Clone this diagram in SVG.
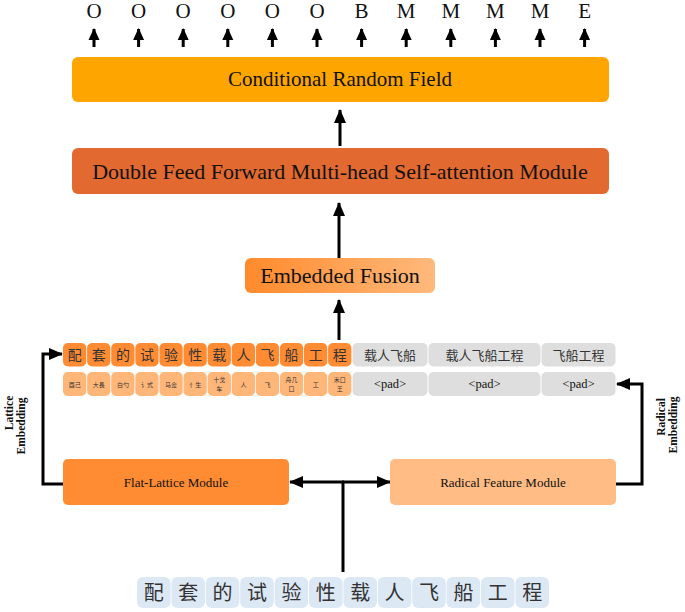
<svg xmlns="http://www.w3.org/2000/svg" width="685" height="612" viewBox="0 0 685 612">
<defs>
<linearGradient id="gEF" x1="0" y1="0" x2="1" y2="0">
<stop offset="0" stop-color="#FF8A2C"/>
<stop offset="1" stop-color="#FFB97C"/>
</linearGradient>
<marker id="ah" markerUnits="userSpaceOnUse" markerWidth="14" markerHeight="14" viewBox="0 0 14 14" refX="13" refY="7" orient="auto">
<path d="M0,1 L14,7 L0,13 Z" fill="#000"/>
</marker>
<marker id="ahs" markerUnits="userSpaceOnUse" markerWidth="12" markerHeight="12" viewBox="0 0 12 12" refX="11" refY="6" orient="auto">
<path d="M0,0.5 L12,6 L0,11.5 Z" fill="#000"/>
</marker>
</defs>
<style>
.serif{font-family:"Liberation Serif","Times New Roman",serif;fill:#111}
.cjk{font-family:"Noto Sans CJK SC","Noto Sans",sans-serif;fill:#333}
.line{fill:none;stroke:#000;stroke-width:3}
.lt{fill:none;stroke:#000;stroke-width:3}
.t1{fill:#FF8C33}
.t2{fill:#FFB679}
.tg{fill:#DEDEDE}
.tb{fill:#DDE8F5}
.big{font-size:21px}
.big2{font-size:22px}
.lbl{font-size:21px}
.c14{font-size:14px}
.c13{font-size:13px}
.c6{font-size:6px}
.pad{font-size:12.5px}
.side{font-size:11.5px;font-weight:bold}
.mod{font-size:13px}
.c20{font-size:20px}
</style>

<g id="labels">
<text class="serif lbl" x="94" y="18" text-anchor="middle">O</text>
<text class="serif lbl" x="138.6" y="18" text-anchor="middle">O</text>
<text class="serif lbl" x="183.2" y="18" text-anchor="middle">O</text>
<text class="serif lbl" x="227.8" y="18" text-anchor="middle">O</text>
<text class="serif lbl" x="272.4" y="18" text-anchor="middle">O</text>
<text class="serif lbl" x="317" y="18" text-anchor="middle">O</text>
<text class="serif lbl" x="361.6" y="18" text-anchor="middle">B</text>
<text class="serif lbl" x="406.2" y="18" text-anchor="middle">M</text>
<text class="serif lbl" x="450.8" y="18" text-anchor="middle">M</text>
<text class="serif lbl" x="495.4" y="18" text-anchor="middle">M</text>
<text class="serif lbl" x="540" y="18" text-anchor="middle">M</text>
<text class="serif lbl" x="584.6" y="18" text-anchor="middle">E</text>
</g>

<g id="connectors">
<g class="lt" marker-end="url(#ahs)">
<line x1="94" y1="47" x2="94" y2="29"/>
<line x1="138.6" y1="47" x2="138.6" y2="29"/>
<line x1="183.2" y1="47" x2="183.2" y2="29"/>
<line x1="227.8" y1="47" x2="227.8" y2="29"/>
<line x1="272.4" y1="47" x2="272.4" y2="29"/>
<line x1="317" y1="47" x2="317" y2="29"/>
<line x1="361.6" y1="47" x2="361.6" y2="29"/>
<line x1="406.2" y1="47" x2="406.2" y2="29"/>
<line x1="450.8" y1="47" x2="450.8" y2="29"/>
<line x1="495.4" y1="47" x2="495.4" y2="29"/>
<line x1="540" y1="47" x2="540" y2="29"/>
<line x1="584.6" y1="47" x2="584.6" y2="29"/>
</g>
<line class="line" x1="340" y1="146" x2="340" y2="110" marker-end="url(#ah)"/>
<line class="line" x1="339" y1="258" x2="339" y2="203" marker-end="url(#ah)"/>
<line class="line" x1="339" y1="340" x2="339" y2="300" marker-end="url(#ah)"/>
<path class="line" d="M63,484 H43 V354 H62" marker-end="url(#ah)"/>
<path class="line" d="M616,484 H642 V384 H617" marker-end="url(#ah)"/>
<line class="line" x1="344" y1="482" x2="290" y2="482" marker-end="url(#ah)"/>
<line class="line" x1="342" y1="482" x2="390" y2="482" marker-end="url(#ah)"/>
<line class="line" x1="343" y1="482" x2="343" y2="572"/>
</g>

<g id="crf">
<rect x="72" y="57" width="537" height="45" rx="6" fill="#FFA500"/>
<text class="serif big" x="340" y="86" text-anchor="middle">Conditional Random Field</text>
</g>

<g id="dff">
<rect x="72" y="148" width="537" height="46" rx="6" fill="#E2692F"/>
<text class="serif big2" x="340" y="178.5" text-anchor="middle">Double Feed Forward Multi-head Self-attention Module</text>
</g>

<g id="fusion">
<rect x="245" y="258" width="190" height="35" rx="6" fill="url(#gEF)"/>
<text class="serif big2" x="340" y="283" text-anchor="middle">Embedded Fusion</text>
</g>

<g id="lattice-row">
<rect class="t1" x="63" y="343" width="23.3" height="23.5" rx="5"/>
<rect class="t1" x="87.1" y="343" width="23.3" height="23.5" rx="5"/>
<rect class="t1" x="111.2" y="343" width="23.3" height="23.5" rx="5"/>
<rect class="t1" x="135.3" y="343" width="23.3" height="23.5" rx="5"/>
<rect class="t1" x="159.4" y="343" width="23.3" height="23.5" rx="5"/>
<rect class="t1" x="183.5" y="343" width="23.3" height="23.5" rx="5"/>
<rect class="t1" x="207.6" y="343" width="23.3" height="23.5" rx="5"/>
<rect class="t1" x="231.7" y="343" width="23.3" height="23.5" rx="5"/>
<rect class="t1" x="255.8" y="343" width="23.3" height="23.5" rx="5"/>
<rect class="t1" x="279.9" y="343" width="23.3" height="23.5" rx="5"/>
<rect class="t1" x="304" y="343" width="23.3" height="23.5" rx="5"/>
<rect class="t1" x="328.1" y="343" width="23.3" height="23.5" rx="5"/>
<rect class="tg" x="352.5" y="343" width="75" height="23.5" rx="5"/>
<rect class="tg" x="428.5" y="343" width="112" height="23.5" rx="5"/>
<rect class="tg" x="541.5" y="343" width="74" height="23.5" rx="5"/>
<g class="cjk c14" text-anchor="middle">
<text x="74.7" y="360">配</text>
<text x="98.8" y="360">套</text>
<text x="122.9" y="360">的</text>
<text x="147" y="360">试</text>
<text x="171.1" y="360">验</text>
<text x="195.2" y="360">性</text>
<text x="219.3" y="360">载</text>
<text x="243.4" y="360">人</text>
<text x="267.5" y="360">飞</text>
<text x="291.6" y="360">船</text>
<text x="315.7" y="360">工</text>
<text x="339.8" y="360">程</text>
</g>
<g class="cjk c13" text-anchor="middle">
<text x="390" y="359.5">载人飞船</text>
<text x="484.5" y="359.5">载人飞船工程</text>
<text x="578.5" y="359.5">飞船工程</text>
</g>
</g>

<g id="radical-row">
<rect class="t2" x="63" y="372" width="23.3" height="24" rx="5"/>
<rect class="t2" x="87.1" y="372" width="23.3" height="24" rx="5"/>
<rect class="t2" x="111.2" y="372" width="23.3" height="24" rx="5"/>
<rect class="t2" x="135.3" y="372" width="23.3" height="24" rx="5"/>
<rect class="t2" x="159.4" y="372" width="23.3" height="24" rx="5"/>
<rect class="t2" x="183.5" y="372" width="23.3" height="24" rx="5"/>
<rect class="t2" x="207.6" y="372" width="23.3" height="24" rx="5"/>
<rect class="t2" x="231.7" y="372" width="23.3" height="24" rx="5"/>
<rect class="t2" x="255.8" y="372" width="23.3" height="24" rx="5"/>
<rect class="t2" x="279.9" y="372" width="23.3" height="24" rx="5"/>
<rect class="t2" x="304" y="372" width="23.3" height="24" rx="5"/>
<rect class="t2" x="328.1" y="372" width="23.3" height="24" rx="5"/>
<rect class="tg" x="352.5" y="372" width="75" height="24" rx="5"/>
<rect class="tg" x="428.5" y="372" width="112" height="24" rx="5"/>
<rect class="tg" x="541.5" y="372" width="74" height="24" rx="5"/>
<g class="cjk c6" text-anchor="middle">
<text x="74.7" y="386.5">酉己</text>
<text x="98.8" y="386.5">大長</text>
<text x="122.9" y="386.5">白勺</text>
<text x="147" y="386.5">讠式</text>
<text x="171.1" y="386.5">马佥</text>
<text x="195.2" y="386.5">忄生</text>
<text x="219.3" y="382">十戈</text>
<text x="219.3" y="390.5">车</text>
<text x="243.4" y="386.5">人</text>
<text x="267.5" y="386.5">飞</text>
<text x="291.6" y="382">舟几</text>
<text x="291.6" y="390.5">口</text>
<text x="315.7" y="386.5">工</text>
<text x="339.8" y="382">禾口</text>
<text x="339.8" y="390.5">王</text>
</g>
<g class="serif pad" text-anchor="middle">
<text x="390" y="388">&lt;pad&gt;</text>
<text x="484.5" y="388">&lt;pad&gt;</text>
<text x="578.5" y="388">&lt;pad&gt;</text>
</g>
</g>

<g id="side-labels">
<text class="serif side" transform="translate(13,413) rotate(-90)" text-anchor="middle">Lattice</text>
<text class="serif side" transform="translate(25,426) rotate(-90)" text-anchor="middle">Embedding</text>
<text class="serif side" transform="translate(665,417) rotate(-90)" text-anchor="middle">Radical</text>
<text class="serif side" transform="translate(677,425) rotate(-90)" text-anchor="middle">Embedding</text>
</g>

<g id="flat-lattice">
<rect x="63" y="459" width="226" height="46" rx="5" fill="#FF8C33"/>
<text class="serif mod" x="176" y="486.5" text-anchor="middle">Flat-Lattice Module</text>
</g>

<g id="radical-feature">
<rect x="390" y="459" width="226" height="46" rx="5" fill="#FFBC84"/>
<text class="serif mod" x="503" y="486.5" text-anchor="middle">Radical Feature Module</text>
</g>

<g id="input">
<rect class="tb" x="137" y="577" width="33.6" height="31" rx="6"/>
<rect class="tb" x="171.4" y="577" width="33.6" height="31" rx="6"/>
<rect class="tb" x="205.8" y="577" width="33.6" height="31" rx="6"/>
<rect class="tb" x="240.2" y="577" width="33.6" height="31" rx="6"/>
<rect class="tb" x="274.6" y="577" width="33.6" height="31" rx="6"/>
<rect class="tb" x="309" y="577" width="33.6" height="31" rx="6"/>
<rect class="tb" x="343.4" y="577" width="33.6" height="31" rx="6"/>
<rect class="tb" x="377.8" y="577" width="33.6" height="31" rx="6"/>
<rect class="tb" x="412.2" y="577" width="33.6" height="31" rx="6"/>
<rect class="tb" x="446.6" y="577" width="33.6" height="31" rx="6"/>
<rect class="tb" x="481" y="577" width="33.6" height="31" rx="6"/>
<rect class="tb" x="515.4" y="577" width="33.6" height="31" rx="6"/>
<g class="cjk c20" text-anchor="middle">
<text x="153.8" y="600">配</text>
<text x="188.2" y="600">套</text>
<text x="222.6" y="600">的</text>
<text x="257" y="600">试</text>
<text x="291.4" y="600">验</text>
<text x="325.8" y="600">性</text>
<text x="360.2" y="600">载</text>
<text x="394.6" y="600">人</text>
<text x="429" y="600">飞</text>
<text x="463.4" y="600">船</text>
<text x="497.8" y="600">工</text>
<text x="532.2" y="600">程</text>
</g>
</g>
</svg>
